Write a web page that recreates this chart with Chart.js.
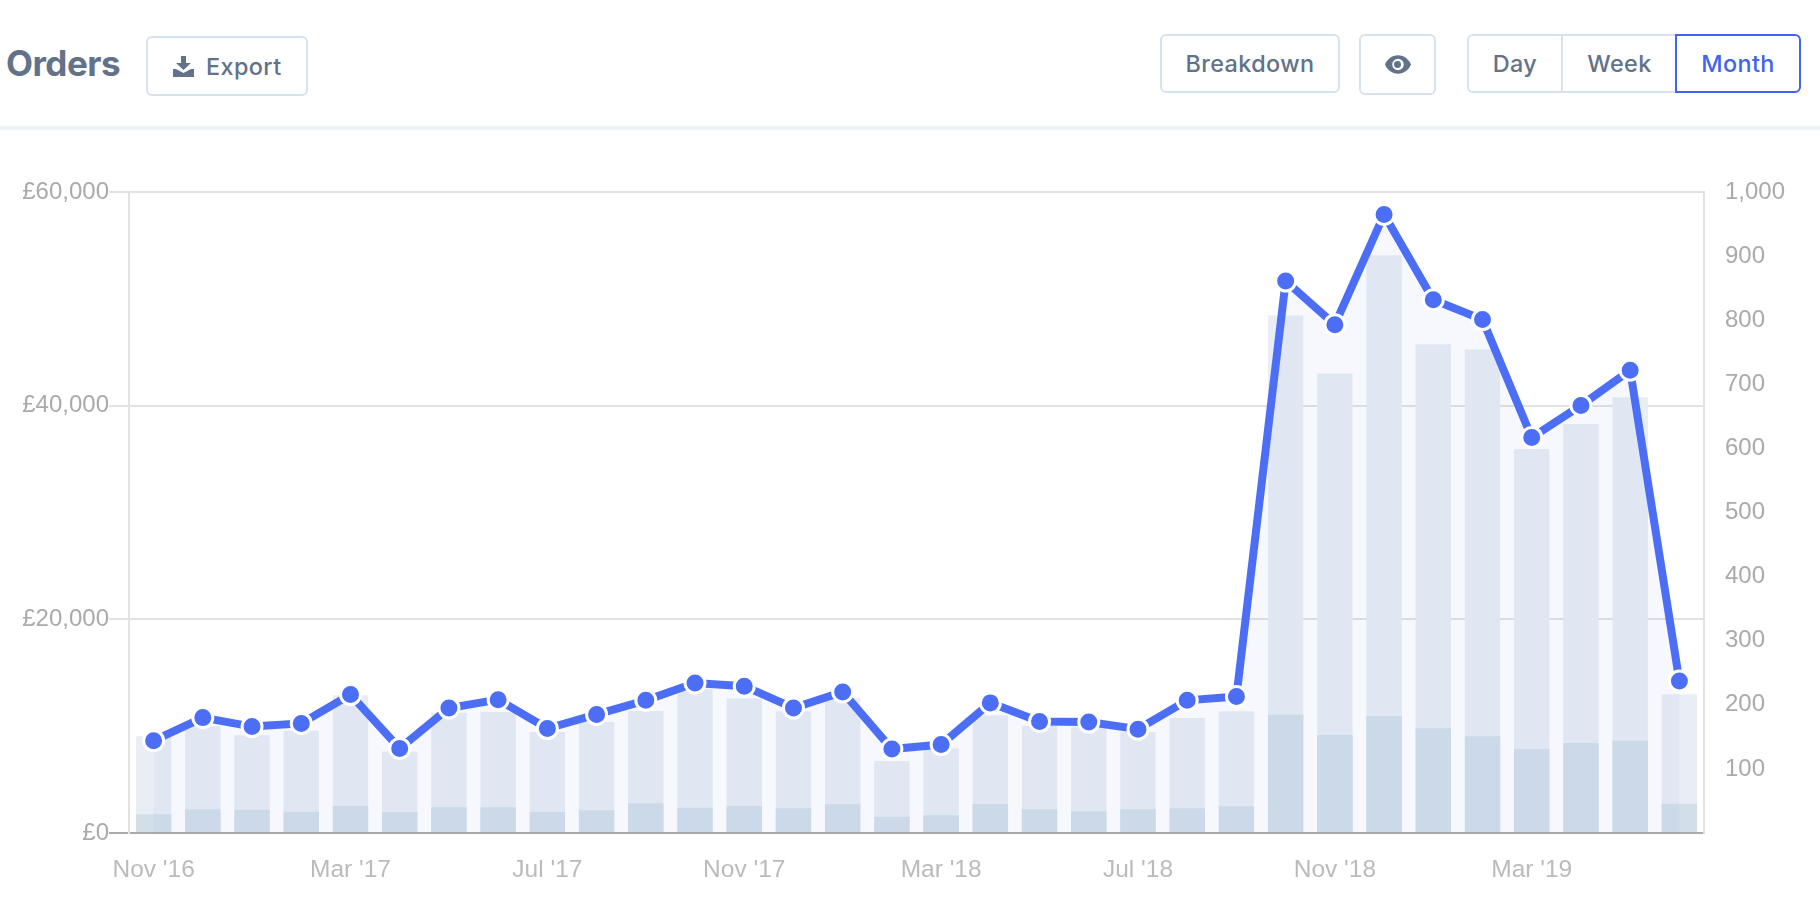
<!DOCTYPE html>
<html>
<head>
<meta charset="utf-8">
<title>Orders</title>
<script src="https://cdn.jsdelivr.net/npm/chart.js@4/dist/chart.umd.js"></script>
<style>
html,body{margin:0;padding:0;width:1820px;height:906px;background:#fff;overflow:hidden;font-family:Inter,sans-serif;}
#rule{position:absolute;left:0;top:126px;width:1820px;height:4px;background:#edf2f7;}
#title{position:absolute;left:6px;top:44px;font-size:35px;line-height:38px;font-weight:700;color:#627288;letter-spacing:-0.5px;}
.btn{position:absolute;box-sizing:border-box;border:2px solid #d6e2ee;border-radius:6px;background:#fff;color:#627288;font-size:23.4px;font-weight:500;letter-spacing:0.4px;display:flex;align-items:center;justify-content:center;}
#chart{position:absolute;left:0;top:130px;}
</style>
</head>
<body>
<div id="title">Orders</div>
<div class="btn" style="left:146px;top:36px;width:162px;height:60px;justify-content:flex-start;padding-left:25px;">
<svg width="21" height="21" viewBox="0 0 21 21" style="margin-right:12px"><path fill="#627288" d="M8 0h5v7h5l-7.500 7L3 7h5z"/><path fill="#627288" d="M0 13h3l7.500 4 7.500-4h3v8H0z"/></svg>Export</div>
<div class="btn" style="left:1160px;top:34px;width:180px;height:59px;">Breakdown</div>
<div class="btn" style="left:1359px;top:34px;width:77px;height:61px;">
<svg width="26" height="19" viewBox="0 0 27 19"><path fill="#627288" fill-rule="evenodd" d="M13.500 0C20 0 25 4.500 27 9.500 25 14.500 20 19 13.500 19S2 14.500 0 9.500C2 4.500 7 0 13.500 0zm0 3.500a6 6 0 1 0 0 12 6 6 0 0 0 0-12z"/><circle cx="13" cy="9.500" r="3.600" fill="#627288"/></svg></div>
<div class="btn" style="left:1562px;top:34px;width:115px;height:59px;border-radius:0;border-left:0;border-right:0;">Week</div>
<div class="btn" style="left:1467px;top:34px;width:96px;height:59px;border-radius:6px 0 0 6px;">Day</div>
<div class="btn" style="left:1675px;top:34px;width:126px;height:59px;border-radius:0 6px 6px 0;border-color:#4263eb;color:#4263eb;">Month</div>
<div id="rule"></div>
<canvas id="chart" width="1820" height="776"></canvas>
<script>
const months = ["Nov '16","Dec '16","Jan '17","Feb '17","Mar '17","Apr '17","May '17","Jun '17","Jul '17","Aug '17","Sep '17","Oct '17","Nov '17","Dec '17","Jan '18","Feb '18","Mar '18","Apr '18","May '18","Jun '18","Jul '18","Aug '18","Sep '18","Oct '18","Nov '18","Dec '18","Jan '19","Feb '19","Mar '19","Apr '19","May '19","Jun '19"];
const revenueTotal = [9050,10000,9140,9580,12890,7640,11260,11330,9450,10400,11420,13500,12600,11390,12670,6740,7900,11000,10050,9900,9450,10760,11390,48450,43000,54070,45740,45270,35940,38280,40780,12980];
const revenuePart = [1750,2215,2185,2000,2530,1935,2400,2400,2000,2120,2780,2370,2530,2310,2680,1530,1650,2710,2215,2030,2215,2310,2500,11075,9170,10950,9800,9050,7860,8420,8670,2745];
const orderCounts = [144,180,166,171,216,132,195,208,163,185,207,234,229,195,220,131,138,203,174,173,162,207,213,861,793,965,832,801,617,667,722,237];
const leftMax = 60000, leftStep = 20000, rightMax = 1000, rightStep = 100;

new Chart(document.getElementById('chart'), {
  data: {
    labels: months,
    datasets: [
      { type:'bar', data:revenueTotal, yAxisID:'y', backgroundColor:'#e8eef3', order:3, grouped:false },
      { type:'bar', data:revenuePart, yAxisID:'y', backgroundColor:'#d2dfe8', order:2, grouped:false },
      { type:'line', data:orderCounts, yAxisID:'y1', order:1, tension:0,
        borderColor:'#4c6ef5', borderWidth:8, fill:'origin', backgroundColor:'rgba(76,110,245,0.05)',
        pointRadius:10, pointBorderWidth:3, pointBackgroundColor:'#4c6ef5', pointBorderColor:'#ffffff', clip:false }
    ]
  },
  options: {
    responsive:false, animation:false,
    layout:{ padding:{ top:62, left:0, right:0, bottom:0 } },
    plugins:{ legend:{display:false}, tooltip:{enabled:false}, title:{display:false} },
    scales:{
      x:{
        grid:{ display:false },
        border:{ color:'#aaaaaa', width:2 },
        ticks:{ autoSkip:false, maxRotation:0, padding:15, color:'#bbbbbb',
          font:{ family:'"Liberation Sans"', size:24.5 },
          callback(v,i){ return i % 4 === 0 ? months[i] : ''; } },
        afterFit(s){ s.height = 73; }
      },
      y:{
        position:'left', min:0, max:leftMax,
        grid:{ color:c => c.tick.value === 0 ? '#aaaaaa' : '#e2e2e2', lineWidth:2, tickLength:20, tickWidth:2 },
        border:{ color:'#e2e2e2', width:2 },
        ticks:{ stepSize:leftStep, padding:0, color:'#aaaaaa',
          font:{ family:'"Liberation Sans"', size:24 },
          callback:v => '£' + v.toLocaleString('en-GB') },
        afterFit(s){ s.width = 129; }
      },
      y1:{
        position:'right', min:0, max:rightMax,
        grid:{ display:false, drawOnChartArea:false },
        border:{ color:'#e2e2e2', width:2 },
        ticks:{ stepSize:rightStep, padding:13, color:'#aaaaaa',
          font:{ family:'"Liberation Sans"', size:24 },
          callback:v => v === 0 ? '' : v.toLocaleString('en-GB') },
        afterFit(s){ s.width = 116; }
      }
    }
  }
});
</script>
</body>
</html>
